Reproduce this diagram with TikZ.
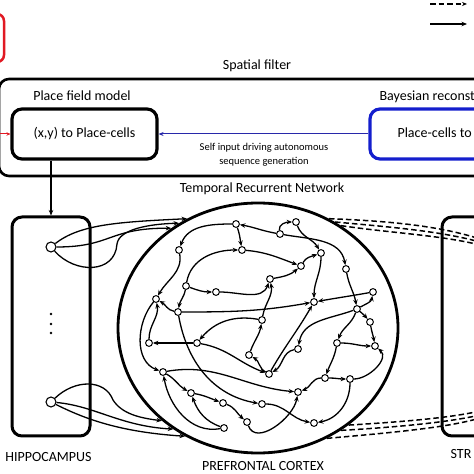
\documentclass[tikz,border=0pt]{standalone}
\usepackage{fontspec}
\setmainfont{Carlito}
\usetikzlibrary{arrows.meta,shapes.geometric}
\definecolor{bayesblue}{RGB}{20,30,205}
\definecolor{arrowblue}{RGB}{40,40,170}
\definecolor{inred}{RGB}{225,25,35}

\begin{document}
\begin{tikzpicture}[x=1pt,y=1pt,
    lbl/.style={font=\fontsize{14}{16}\selectfont},
    smalllbl/.style={font=\fontsize{10.5}{13}\selectfont},
    region/.style={draw,line width=3pt,rounded corners=10pt,inner sep=0pt},
    cell/.style={circle,draw,fill=white,line width=1pt,inner sep=0pt,minimum size=6.8pt},
    hipcell/.style={circle,draw,fill=white,line width=1.1pt,inner sep=0pt,minimum size=10pt},
    link/.style={line width=1.3pt,-{Stealth[length=5.5pt,width=4.5pt]}},
    strlink/.style={line width=1.5pt,dash pattern=on 5.5pt off 3pt}]

	\useasboundingbox (0,0) rectangle (474,474);

	% spatial filter
	\node[draw=inred,line width=2.5pt,rounded corners=7pt,minimum width=40pt,minimum height=48pt] (redbox) at (-16,436) {};
	\node[region,line width=2.6pt,minimum width=494pt,minimum height=97pt] (spatial) at (246,346.5) {};
	\node[lbl,anchor=base] (spatialtxt) at (257,404) {Spatial filter};
	\node[lbl,anchor=base] (placetxt) at (82,373.5) {Place field model};
	\node[lbl,anchor=base west] (bayeshead) at (376,373.5) {Bayesian reconst};
	\node[region,line width=3.2pt,minimum width=145pt,minimum height=50pt,lbl] (place) at (84.5,340) {(x,y) to Place-cells};
	\node[region,draw=bayesblue,line width=3.2pt,minimum width=145pt,minimum height=50pt] (bayes) at (442.5,340) {};
	\node[lbl,anchor=base west] (bayestxt) at (394,336) {Place-cells to};
	\node[smalllbl,anchor=base] (selftxt) at (264,323.3) {Self input driving autonomous};
	\node[smalllbl,anchor=base] (seqtxt) at (264,309) {sequence generation};
	\coordinate (redin) at (-4,340);
	\draw[line width=1pt,inred,-{Stealth[length=4pt,width=3.5pt]}] (redin) -- (place.west);
	\draw[line width=1pt,arrowblue,-{Stealth[length=5pt,width=4pt]}] (bayes.west) -- (place.east);

	% legend
	\coordinate (lega) at (430,470);
	\coordinate (legb) at (467,470);
	\coordinate (legc) at (430,450);
	\coordinate (legd) at (467,450);
	\draw[strlink,-{Stealth[length=5pt,width=4pt]}] (lega) -- (legb);
	\draw[link] (legc) -- (legd);

	% regions
	\node[lbl,anchor=base] (trntxt) at (262,281) {Temporal Recurrent Network};
	\node[region,minimum width=78pt,minimum height=219pt] (hip) at (51,147.5) {};
	\node[region,minimum width=80pt,minimum height=219pt] (str) at (482,147.5) {};
	\node[draw,ellipse,line width=2.8pt,minimum width=280pt,minimum height=250pt,inner sep=0pt] (pfc) at (258,146) {};
	\node[lbl,anchor=base] (hiptxt) at (48.5,12.3) {HIPPOCAMPUS};
	\node[lbl,anchor=base] (pfctxt) at (263,4) {PREFRONTAL CORTEX};
	\node[lbl,anchor=base] (strtxt) at (461,16) {STR};
	\draw[link] (hip.north |- place.south) -- (hip.north);

	\node[hipcell] (h1) at (51,227) {};
	\node[hipcell] (h2) at (51,72) {};
	\fill (51,160) circle (1.3);
	\fill (51,150) circle (1.3);
	\fill (51,141) circle (1.3);

	% network cells
	\node[cell] (n1) at (236,250) {};
	\node[cell] (n2) at (296,252) {};
	\node[cell] (n3) at (280,240) {};
	\node[cell] (n4) at (179,224) {};
	\node[cell] (n5) at (242,224) {};
	\node[cell] (n6) at (321,221) {};
	\node[cell] (n7) at (301,208) {};
	\node[cell] (n8) at (346,205) {};
	\node[cell] (n9) at (270,195) {};
	\node[cell] (n10) at (186,188) {};
	\node[cell] (n11) at (216,182) {};
	\node[cell] (n12) at (373,182) {};
	\node[cell] (n13) at (156,175) {};
	\node[cell] (n14) at (314,172) {};
	\node[cell] (n15) at (357,165) {};
	\node[cell] (n16) at (178,162) {};
	\node[cell] (n17) at (262,154) {};
	\node[cell] (n18) at (370,152) {};
	\node[cell] (n19) at (149,131) {};
	\node[cell] (n20) at (197,131) {};
	\node[cell] (n21) at (337,131) {};
	\node[cell] (n22) at (375,128) {};
	\node[cell] (n23) at (249,119) {};
	\node[cell] (n24) at (298,125) {};
	\node[cell] (n25) at (163,102) {};
	\node[cell] (n26) at (269,100) {};
	\node[cell] (n27) at (325,96) {};
	\node[cell] (n28) at (350,95) {};
	\node[cell] (n29) at (191,81) {};
	\node[cell] (n30) at (298,82) {};
	\node[cell] (n31) at (223,71) {};
	\node[cell] (n32) at (262,70) {};
	\node[cell] (n33) at (247,52) {};
	\node[cell] (n34) at (314,51) {};
	\node[cell] (n35) at (224,46) {};

	% network links
	\draw[link] (n3) to[out=170,in=-10] (n1);
	\draw[link] (n3) to[out=100,in=180] (n2);
	\draw[link] (n1) to[out=-70,in=100] (n5);
	\draw[link] (n1) to[out=180,in=70] (n4);
	\draw[link] (n4) to[out=-80,in=60] (n13);
	\draw[link] (n2) to[out=-70,in=120] (n6);
	\draw[link] (n3) to[out=-10,in=100] (n8);
	\draw[link] (n7) to[out=60,in=200] (n6);
	\draw[link] (n5) to[out=-5,in=160] (n7);
	\draw[link] (n10) to[out=80,in=180] (n5);
	\draw[link] (n10) to[out=-20,in=180] (n11);
	\draw[link] (n10) to[out=-100,in=80] (n16);
	\draw[link] (n11) to[out=0,in=-110] (n9);
	\draw[link] (n17) to[out=80,in=-80] (n9);
	\draw[link] (n9) to[out=10,in=220] (n7);
	\draw[link] (n16) to[out=0,in=190] (n14);
	\draw[link] (n6) to[out=-90,in=90] (n14);
	\draw[link] (n12) to[out=190,in=10] (n14);
	\draw[link] (n8) to[out=-80,in=100] (n15);
	\draw[link] (n15) to[out=30,in=-100] (n12);
	\draw[link] (n15) to[out=-40,in=130] (n18);
	\draw[link] (n18) to[out=-80,in=100] (n22);
	\draw[link] (n15) to[out=-110,in=70] (n21);
	\draw[link] (n21) to[out=0,in=180] (n22);
	\draw[link] (n15) to[out=200,in=80] (n24);
	\draw[link] (n21) to[out=-100,in=70] (n27);
	\draw[link] (n27) to[out=0,in=180] (n28);
	\draw[link] (n27) to[out=180,in=20] (n30);
	\draw[link] (n28) to[out=-90,in=10] (n34);
	\draw[link] (n28) to[out=0,in=-40] (n22);
	\draw[link] (n24) to[out=190,in=30] (n26);
	\draw[link] (n26) to[out=150,in=-30] (n23);
	\draw[link] (n23) to[out=70,in=-100] (n17);
	\draw[link] (n17) to[out=170,in=50] (n20);
	\draw[link] (n20) to[out=180,in=0] (n19);
	\draw[link] (n19) to[out=90,in=-80] (n13);
	\draw[link] (n16) to[out=170,in=-30] (n13);
	\draw[link] (n13) to[out=-130,in=160] (n25);
	\draw[link] (n25) to[out=-30,in=150] (n29);
	\draw[link] (n29) to[out=-10,in=160] (n31);
	\draw[link] (n31) to[out=-20,in=140] (n33);
	\draw[link] (n35) to[out=160,in=-70] (n29);
	\draw[link] (n35) to[out=190,in=-80] (n25);
	\draw[link] (n20) to[out=-10,in=160] (n26);
	\draw[link] (n25) to[out=10,in=175] (n30);
	\draw[link] (n16) to[out=-80,in=170] (n32);
	\draw[link] (n32) to[out=0,in=170] (n34);
	\draw[link] (n33) to[out=-70,in=-100] (n30);
	\draw[link] (n26) to[out=60,in=-120] (n14);

	% hippocampus to cortex
	\coordinate (hk1) at (117,230);
	\coordinate (hk2) at (113,74);
	\draw[link] (h1) .. controls (80,250) and (120,252) .. (pfc.123);
	\draw[link] (h1) .. controls (112,227) and (108,246) .. (pfc.131);
	\draw[line width=1.3pt] (h1) .. controls (75,200) and (115,200) .. (hk1);
	\draw[link] (hk1) .. controls (119,245) and (150,250) .. (pfc.127);
	\draw[line width=1.3pt] (h2) .. controls (75,95) and (105,95) .. (hk2);
	\draw[link] (hk2) .. controls (122,60) and (140,56) .. (pfc.224);
	\draw[link] (h2) .. controls (95,68) and (120,48) .. (pfc.230);
	\draw[link] (h2) .. controls (85,55) and (120,42) .. (pfc.236);

	% cortex to striatum
	\coordinate (sa) at (480,235);
	\coordinate (sb) at (480,232);
	\coordinate (sc) at (480,229);
	\coordinate (sd) at (480,63);
	\coordinate (se) at (480,59);
	\coordinate (sf) at (480,56);
	\draw[strlink] (pfc.57) .. controls (390,253) and (440,248) .. (sa);
	\draw[strlink] (pfc.54) .. controls (390,247) and (440,243) .. (sb);
	\draw[strlink] (pfc.51) .. controls (390,241) and (440,239) .. (sc);
	\draw[strlink] (pfc.-47) .. controls (400,52) and (450,56) .. (sd);
	\draw[strlink] (pfc.-51) .. controls (400,47) and (450,52) .. (se);
	\draw[strlink] (pfc.-58) .. controls (400,42) and (450,47) .. (sf);
\end{tikzpicture}
\end{document}
